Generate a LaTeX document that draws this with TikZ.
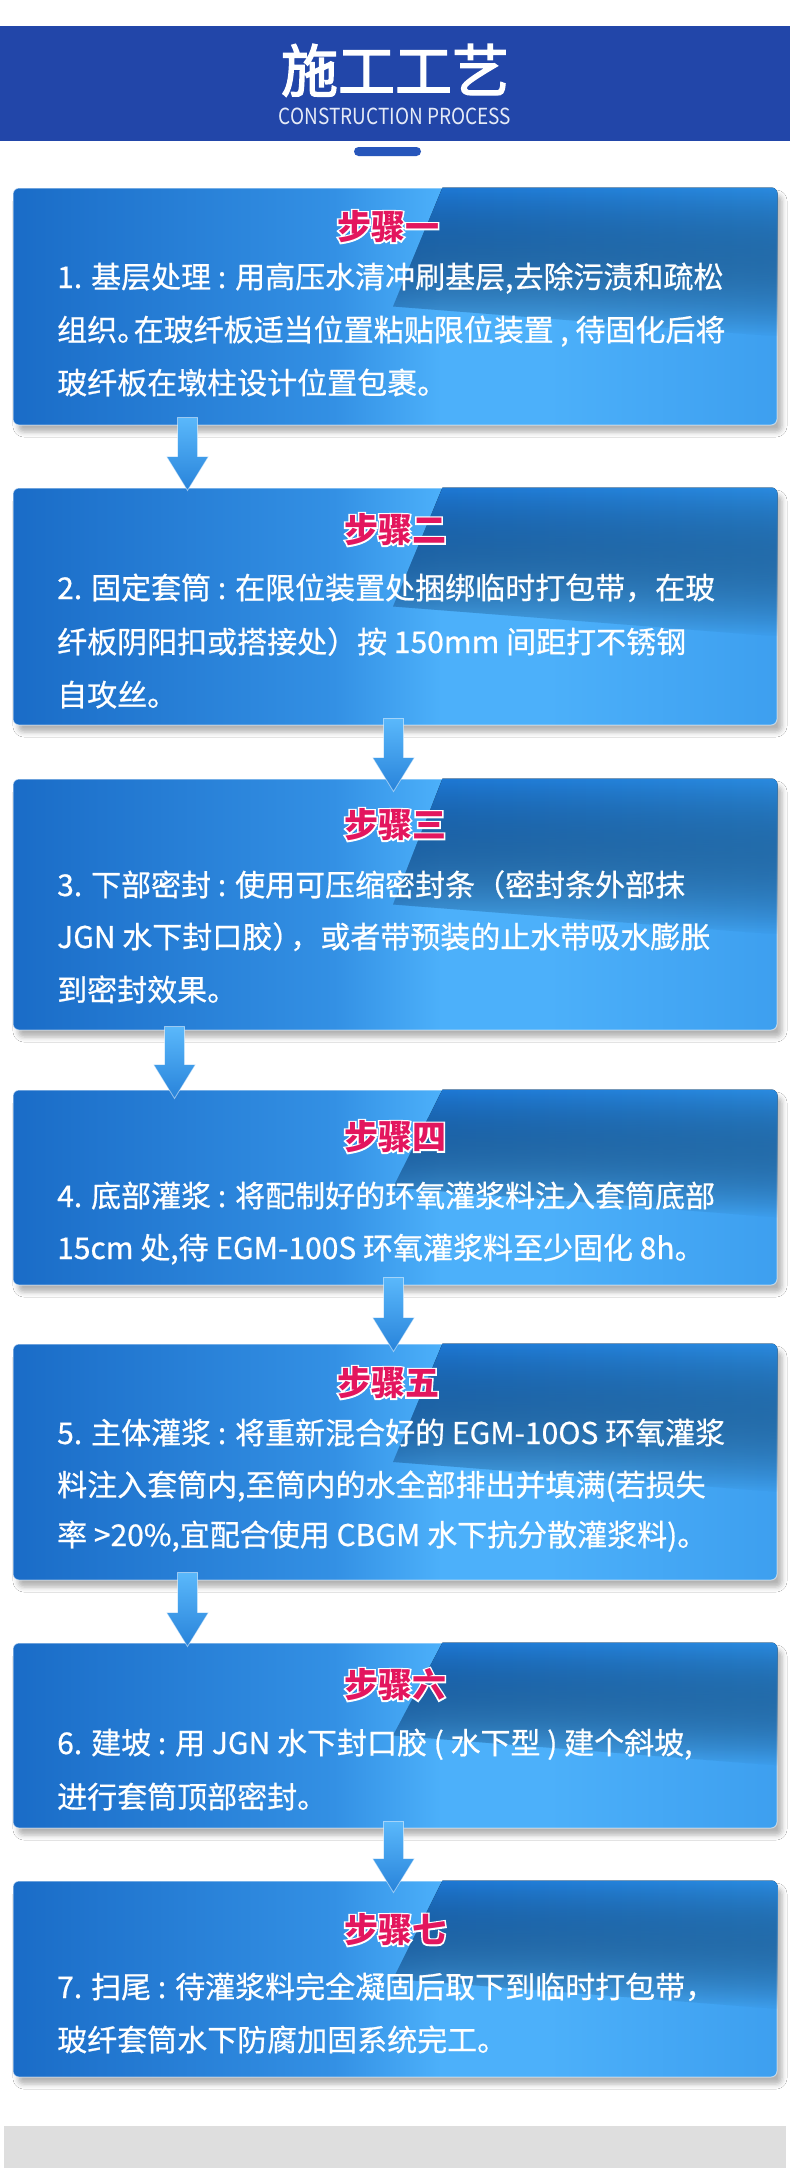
\documentclass[tikz,border=0pt]{standalone}
\usepackage{fontspec}
\setmainfont{Noto Sans CJK SC}
\newfontfamily\cjk{Noto Sans CJK SC}
\newfontfamily\cjkbody{Noto Sans CJK SC}[FakeBold=0.6]
\newfontfamily\cjktitle{Noto Sans CJK SC}[FakeBold=2.5]
\newfontfamily\stepouter{Noto Sans CJK SC}[FakeBold=9,BoldFeatures={FakeBold=9}]
\newfontfamily\stepinner{Noto Sans CJK SC}
\usetikzlibrary{calc,fadings,shadows.blur}
\definecolor{hdrblue}{HTML}{2246A9}
\definecolor{pillblue}{HTML}{2756BB}
\definecolor{subwhite}{HTML}{E6EBF7}
\definecolor{bxA}{HTML}{1A6CC7}
\definecolor{bxB}{HTML}{3390E4}
\definecolor{bxC}{HTML}{4CB0FA}
\definecolor{bxD}{HTML}{3D9FEF}
\definecolor{shA}{HTML}{1C76D3}
\definecolor{shB}{HTML}{2A8BE0}
\definecolor{arrTop}{HTML}{5AB8FB}
\definecolor{arrBot}{HTML}{2883DA}
\definecolor{crimson}{HTML}{E3165E}
\definecolor{footgray}{HTML}{DEDEDE}
\pgfdeclarehorizontalshading{boxbase}{100bp}{color(0bp)=(bxA); color(25bp)=(bxA); color(46bp)=(bxB); color(53bp)=(bxC); color(60bp)=(bxC); color(75bp)=(bxD); color(100bp)=(bxD)}
\tikzset{
  stepbox/.style={rectangle, rounded corners=6pt, minimum width=764pt, inner sep=0pt,
    shading=boxbase, draw=white, draw opacity=0.55, line width=1pt,
    blur shadow={shadow xshift=5pt, shadow yshift=-7pt, shadow blur radius=5pt, shadow opacity=30}},
  shine/.style={left color=shA, right color=shB, path fading=south},
  arrowfill/.style={top color=arrTop, bottom color=arrBot, draw=white, draw opacity=0.5, line width=0.8pt},
  steptitleout/.style={text=white, font=\stepouter\bfseries\fontsize{34pt}{40pt}\selectfont, inner sep=0pt, anchor=base},
  steptitle/.style={text=crimson, font=\stepinner\bfseries\fontsize{34pt}{40pt}\selectfont, inner sep=0pt, anchor=base},
  bodytext/.style={text=white, font=\cjkbody\fontsize{30pt}{36pt}\selectfont, inner sep=0pt, anchor=base west},
}
\newcommand\boxshine[1]{%
  \begin{scope}
    \clip[rounded corners=6pt] (#1.north west) rectangle (#1.south east);
    \fill[shine] ($(#1.north west)+(430,0)$) -- (#1.north east) -- ($(#1.east)+(0,30)$) -- ($(#1.center)+(-2,0)$) -- cycle;
  \end{scope}}
\newcommand\flowarrow[2]{%
  \draw[arrowfill] let \p1=(#1), \p2=(#2) in
    (\x1-10pt,\y1) -- (\x1+10pt,\y1) -- (\x1+10pt,\y2+34pt) -- (\x1+21pt,\y2+34pt)
    -- (\x2,\y2) -- (\x1-21pt,\y2+34pt) -- (\x1-10pt,\y2+34pt) -- cycle;}
\newcommand\steplabel[4]{%
  \node[steptitleout] (#1o) at (#2,#3) {#4};
  \node[steptitle] (#1) at (#2,#3) {#4};}
\begin{document}
\begin{tikzpicture}[x=1pt,y=-1pt]
\useasboundingbox (0,0) rectangle (790,2182);
\fill[white] (0,0) rectangle (790,2182);
% header
\node[fill=hdrblue, minimum width=790pt, minimum height=115pt, inner sep=0pt, anchor=north west] (hdr) at (0,26) {};
\node[text=white, font=\cjktitle\fontsize{57pt}{60pt}\selectfont, inner sep=0pt, anchor=base] (title) at (395,92) {施工工艺};
\node[text=subwhite, inner sep=0pt, anchor=base] (subtitle) at (395,124) {\resizebox{232pt}{16.5pt}{\cjk\fontsize{22pt}{24pt}\selectfont CONSTRUCTION PROCESS}};
\node[fill=pillblue, rounded corners=4.5pt, minimum width=67pt, minimum height=9pt, inner sep=0pt] (pill) at (387.5,151.5) {};
% boxes
\node[stepbox, minimum height=237pt] (b1) at (395,306.5) {};
\node[stepbox, minimum height=237pt] (b2) at (395,606.5) {};
\node[stepbox, minimum height=251pt] (b3) at (395,904.5) {};
\node[stepbox, minimum height=195pt] (b4) at (395,1187.5) {};
\node[stepbox, minimum height=236pt] (b5) at (395,1462) {};
\node[stepbox, minimum height=185pt] (b6) at (395,1735.5) {};
\node[stepbox, minimum height=196pt] (b7) at (395,1979) {};
\boxshine{b1}\boxshine{b2}\boxshine{b3}\boxshine{b4}\boxshine{b5}\boxshine{b6}\boxshine{b7}
% titles
\steplabel{t1}{388}{239.5}{步骤一}
\steplabel{t2}{395}{542.5}{步骤二}
\steplabel{t3}{395}{837.5}{步骤三}
\steplabel{t4}{395}{1149.5}{步骤四}
\steplabel{t5}{388}{1395.5}{步骤五}
\steplabel{t6}{395}{1697.5}{步骤六}
\steplabel{t7}{395}{1942.5}{步骤七}
% body text
\node[bodytext] (s1a) at (57,288) {1. 基层处理 : 用高压水清冲刷基层,去除污渍和疏松};
\node[bodytext] (s1b) at (57,341) {组织。\kern-0.45em 在玻纤板适当位置粘贴限位装置 , 待固化后将};
\node[bodytext] (s1c) at (57,394) {玻纤板在墩柱设计位置包裹。};
\node[bodytext] (s2a) at (57,599) {2. 固定套筒 : 在限位装置处捆绑临时打包带，在玻};
\node[bodytext] (s2b) at (57,653) {纤板阴阳扣或搭接处）按 150mm 间距打不锈钢};
\node[bodytext] (s2c) at (57,706) {自攻丝。};
\node[bodytext] (s3a) at (57,896) {3. 下部密封 : 使用可压缩密封条（密封条外部抹};
\node[bodytext] (s3b) at (57,948) {JGN 水下封口胶）\kern-0.4em，或者带预装的止水带吸水膨胀};
\node[bodytext] (s3c) at (57,1001) {到密封效果。};
\node[bodytext] (s4a) at (57,1207) {4. 底部灌浆 : 将配制好的环氧灌浆料注入套筒底部};
\node[bodytext] (s4b) at (57,1259) {15cm 处,待 EGM-100S 环氧灌浆料至少固化 8h。};
\node[bodytext] (s5a) at (57,1444) {5. 主体灌浆 : 将重新混合好的 EGM-10OS 环氧灌浆};
\node[bodytext] (s5b) at (57,1496) {料注入套筒内,至筒内的水全部排出并填满(若损失};
\node[bodytext] (s5c) at (57,1546) {率 >20\%,宜配合使用 CBGM 水下抗分散灌浆料)。};
\node[bodytext] (s6a) at (57,1754) {6. 建坡 : 用 JGN 水下封口胶 ( 水下型 ) 建个斜坡,};
\node[bodytext] (s6b) at (57,1808) {进行套筒顶部密封。};
\node[bodytext] (s7a) at (57,1998) {7. 扫尾 : 待灌浆料完全凝固后取下到临时打包带，};
\node[bodytext] (s7b) at (57,2051) {玻纤套筒水下防腐加固系统完工。};
% arrows
\coordinate (a1s) at ($(b1.south west)+(175,-8)$);
\coordinate (a1e) at ($(b2.north west)+(175,3)$);
\coordinate (a2s) at ($(b2.south west)+(381,-7)$);
\coordinate (a2e) at ($(b3.north west)+(381,13)$);
\coordinate (a3s) at ($(b3.south west)+(162,-4)$);
\coordinate (a3e) at ($(b4.north west)+(162,9)$);
\coordinate (a4s) at ($(b4.south west)+(381,-8)$);
\coordinate (a4e) at ($(b5.north west)+(381,8)$);
\coordinate (a5s) at ($(b5.south west)+(175,-8)$);
\coordinate (a5e) at ($(b6.north west)+(175,4)$);
\coordinate (a6s) at ($(b6.south west)+(381,-7)$);
\coordinate (a6e) at ($(b7.north west)+(381,12)$);
\flowarrow{a1s}{a1e}
\flowarrow{a2s}{a2e}
\flowarrow{a3s}{a3e}
\flowarrow{a4s}{a4e}
\flowarrow{a5s}{a5e}
\flowarrow{a6s}{a6e}
% footer bar
\node[fill=footgray, minimum width=782pt, minimum height=42pt, inner sep=0pt, anchor=north west] (foot) at (4,2126) {};
\end{tikzpicture}
\end{document}
